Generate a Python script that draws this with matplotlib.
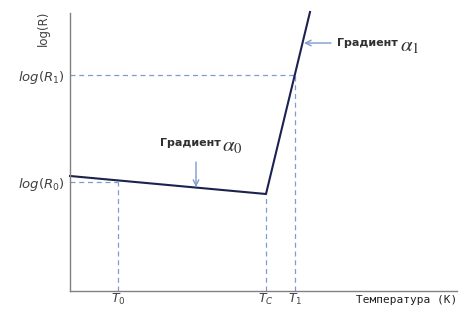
import matplotlib.pyplot as plt

# break points of the curve (arbitrary units)
temp_pts = [0, 196, 240]
logr_pts = [115, 97, 279]

T0, TC, T1 = 48, 196, 225
logR0, logR1 = 109, 216

xticks = [T0, TC, T1]
xlabels = ['$T_0$', '$T_C$', '$T_1$']
yticks = [logR0, logR1]
ylabels = ['$log(R_0)$', '$log(R_1)$']

plt.rcParams['mathtext.fontset'] = 'dejavusans'

fig = plt.figure(figsize=(4.74, 3.21), dpi=100)
ax = fig.add_axes([70 / 474, 30 / 321, 387 / 474, 278 / 321])
ax.set_xlim(0, 387)
ax.set_ylim(0, 278)

dash = dict(color='#7f9bd0', linewidth=0.9, linestyle=(0, (4, 3)))
ax.plot([0, T0], [logR0, logR0], **dash)
ax.plot([T0, T0], [0, logR0], **dash)
ax.plot([0, T1], [logR1, logR1], **dash)
ax.plot([T1, T1], [0, logR1], **dash)
ax.plot([TC, TC], [0, logr_pts[1]], **dash)

ax.plot(temp_pts, logr_pts, color='#1c2250', linewidth=1.5, clip_on=False)

for s in ['top', 'right']:
    ax.spines[s].set_visible(False)
for s in ['left', 'bottom']:
    ax.spines[s].set_color('#808080')
    ax.spines[s].set_linewidth(1.0)

ax.set_xticks(xticks)
ax.set_xticklabels(xlabels, fontsize=9, color='#404040')
ax.set_yticks(yticks)
ax.set_yticklabels(ylabels, fontsize=9.5, color='#404040')
ax.tick_params(length=0)
ax.tick_params(axis='x', pad=1)
ax.tick_params(axis='y', pad=4)

ax.text(387, -4, 'Температура (K)', ha='right', va='top', fontsize=8,
        color='#202020', family='DejaVu Sans Mono')
ax.text(-20, 280, 'log(R)', rotation=90, ha='right', va='top', fontsize=8.5,
        color='#404040')

arrow = dict(arrowstyle='->', color='#7f9bd0', linewidth=1.0,
             shrinkA=0, shrinkB=0)
ax.annotate('', xy=(234, 248), xytext=(261, 248), arrowprops=arrow)
ax.text(267, 248, 'Градиент', ha='left', va='center', fontsize=8,
        fontweight='bold', color='#303030')
ax.text(330, 245, r'$\alpha_{\mathit{1}}$', ha='left', va='center', fontsize=15,
        color='#303030', math_fontfamily='stix')

ax.annotate('', xy=(126, 104), xytext=(126, 129), arrowprops=arrow)
ax.text(90, 148, 'Градиент', ha='left', va='center', fontsize=8,
        fontweight='bold', color='#303030')
ax.text(152, 145, r'$\alpha_{\mathit{0}}$', ha='left', va='center', fontsize=15,
        color='#303030', math_fontfamily='stix')

fig.savefig('out.png', dpi=100)
